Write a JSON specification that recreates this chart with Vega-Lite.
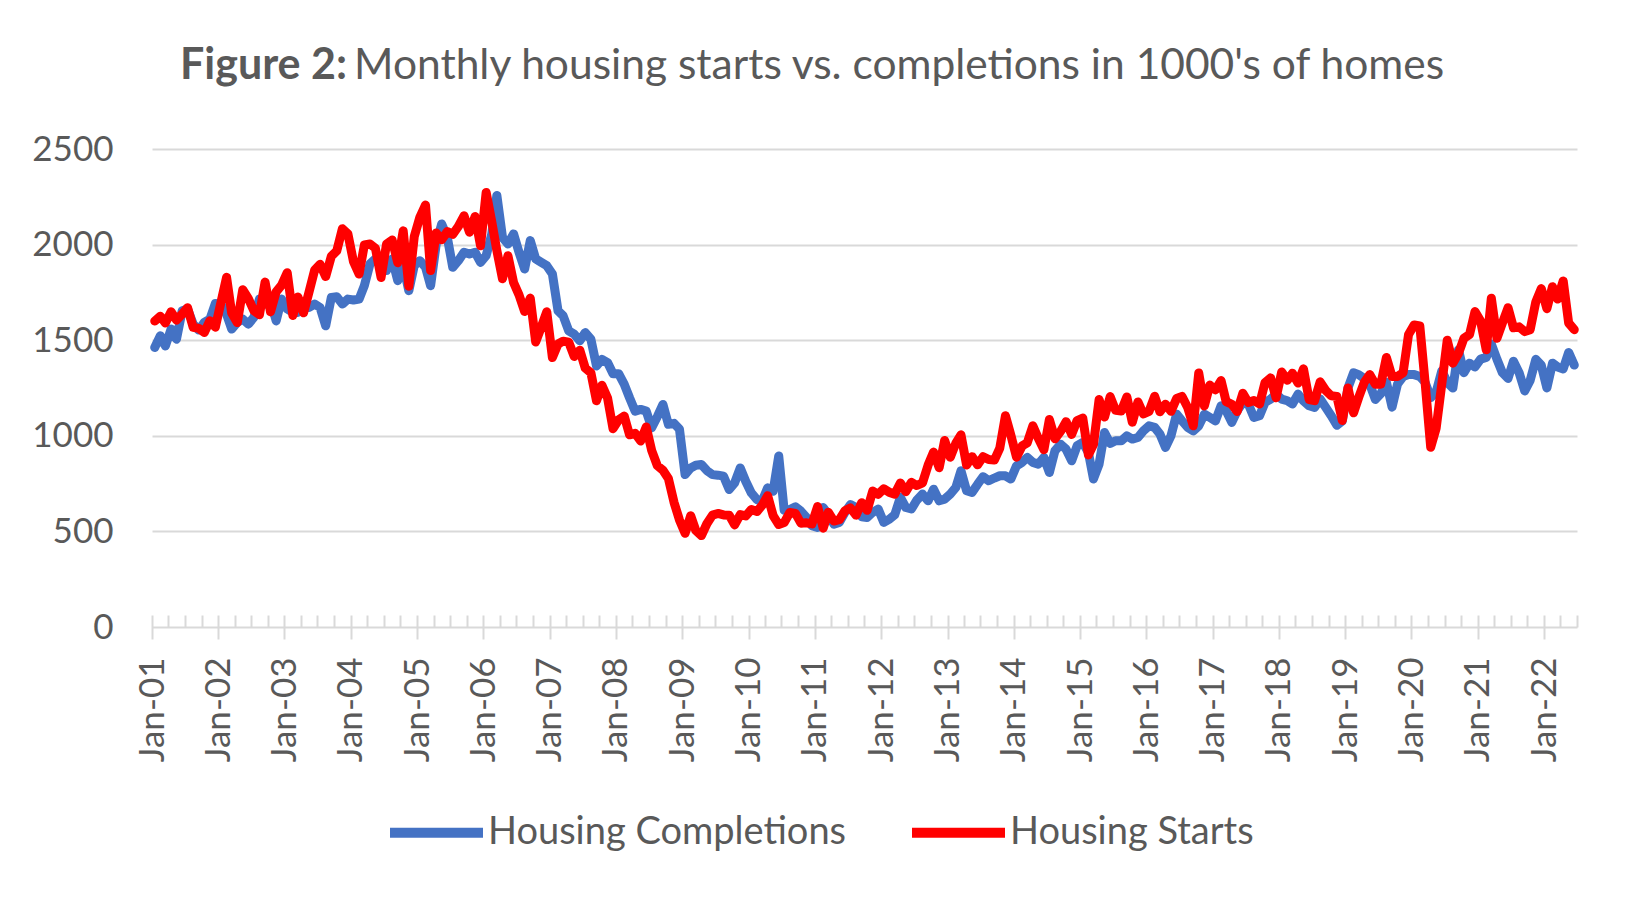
{
  "$schema": "https://vega.github.io/schema/vega-lite/v6.json",
  "width": 1425,
  "height": 478,
  "autosize": {"type": "none"},
  "padding": {"left": 152, "top": 149, "right": 51, "bottom": 271},
  "background": "white",
  "title": {
    "text": "Figure 2:",
    "subtitle": "\u200b\u00a0\u00a0\u00a0\u00a0\u00a0\u00a0\u00a0\u00a0\u00a0\u00a0\u00a0\u00a0\u00a0\u00a0\u00a0\u00a0Monthly housing starts vs. completions in 1000's of homes",
    "anchor": "start",
    "frame": "group",
    "dx": 28,
    "offset": 44,
    "font": "Lato",
    "fontSize": 43,
    "fontWeight": "bold",
    "color": "#595959",
    "subtitleFont": "Lato",
    "subtitleFontSize": 42.5,
    "subtitleFontWeight": "normal",
    "subtitleColor": "#595959",
    "subtitlePadding": -43
  },
  "data": {
    "values": [
      {"d": "2001-01-16", "c": 1462, "s": 1600},
      {"d": "2001-02-16", "c": 1523, "s": 1625},
      {"d": "2001-03-16", "c": 1470, "s": 1590},
      {"d": "2001-04-16", "c": 1558, "s": 1649},
      {"d": "2001-05-16", "c": 1505, "s": 1605},
      {"d": "2001-06-16", "c": 1654, "s": 1636},
      {"d": "2001-07-16", "c": 1663, "s": 1670},
      {"d": "2001-08-16", "c": 1584, "s": 1567},
      {"d": "2001-09-16", "c": 1553, "s": 1562},
      {"d": "2001-10-16", "c": 1593, "s": 1540},
      {"d": "2001-11-16", "c": 1610, "s": 1602},
      {"d": "2001-12-16", "c": 1692, "s": 1568},
      {"d": "2002-01-16", "c": 1689, "s": 1698},
      {"d": "2002-02-16", "c": 1636, "s": 1829},
      {"d": "2002-03-16", "c": 1558, "s": 1642},
      {"d": "2002-04-16", "c": 1593, "s": 1592},
      {"d": "2002-05-16", "c": 1610, "s": 1764},
      {"d": "2002-06-16", "c": 1584, "s": 1717},
      {"d": "2002-07-16", "c": 1619, "s": 1655},
      {"d": "2002-08-16", "c": 1715, "s": 1633},
      {"d": "2002-09-16", "c": 1689, "s": 1804},
      {"d": "2002-10-16", "c": 1706, "s": 1648},
      {"d": "2002-11-16", "c": 1601, "s": 1753},
      {"d": "2002-12-16", "c": 1715, "s": 1788},
      {"d": "2003-01-16", "c": 1663, "s": 1853},
      {"d": "2003-02-16", "c": 1645, "s": 1629},
      {"d": "2003-03-16", "c": 1645, "s": 1726},
      {"d": "2003-04-16", "c": 1671, "s": 1643},
      {"d": "2003-05-16", "c": 1671, "s": 1751},
      {"d": "2003-06-16", "c": 1689, "s": 1867},
      {"d": "2003-07-16", "c": 1671, "s": 1897},
      {"d": "2003-08-16", "c": 1575, "s": 1833},
      {"d": "2003-09-16", "c": 1724, "s": 1939},
      {"d": "2003-10-16", "c": 1727, "s": 1967},
      {"d": "2003-11-16", "c": 1689, "s": 2083},
      {"d": "2003-12-16", "c": 1715, "s": 2057},
      {"d": "2004-01-16", "c": 1710, "s": 1911},
      {"d": "2004-02-16", "c": 1715, "s": 1846},
      {"d": "2004-03-16", "c": 1785, "s": 1998},
      {"d": "2004-04-16", "c": 1899, "s": 2003},
      {"d": "2004-05-16", "c": 1925, "s": 1981},
      {"d": "2004-06-16", "c": 1890, "s": 1828},
      {"d": "2004-07-16", "c": 1864, "s": 2002},
      {"d": "2004-08-16", "c": 1925, "s": 2024},
      {"d": "2004-09-16", "c": 1811, "s": 1905},
      {"d": "2004-10-16", "c": 1890, "s": 2072},
      {"d": "2004-11-16", "c": 1759, "s": 1782},
      {"d": "2004-12-16", "c": 1890, "s": 2042},
      {"d": "2005-01-16", "c": 1916, "s": 2144},
      {"d": "2005-02-16", "c": 1881, "s": 2207},
      {"d": "2005-03-16", "c": 1785, "s": 1864},
      {"d": "2005-04-16", "c": 2003, "s": 2061},
      {"d": "2005-05-16", "c": 2108, "s": 2025},
      {"d": "2005-06-16", "c": 2038, "s": 2068},
      {"d": "2005-07-16", "c": 1881, "s": 2054},
      {"d": "2005-08-16", "c": 1916, "s": 2095},
      {"d": "2005-09-16", "c": 1960, "s": 2151},
      {"d": "2005-10-16", "c": 1951, "s": 2065},
      {"d": "2005-11-16", "c": 1960, "s": 2147},
      {"d": "2005-12-16", "c": 1907, "s": 1994},
      {"d": "2006-01-16", "c": 1942, "s": 2273},
      {"d": "2006-02-16", "c": 2056, "s": 2119},
      {"d": "2006-03-16", "c": 2257, "s": 1969},
      {"d": "2006-04-16", "c": 2038, "s": 1821},
      {"d": "2006-05-16", "c": 2003, "s": 1942},
      {"d": "2006-06-16", "c": 2056, "s": 1802},
      {"d": "2006-07-16", "c": 1960, "s": 1737},
      {"d": "2006-08-16", "c": 1872, "s": 1650},
      {"d": "2006-09-16", "c": 2021, "s": 1720},
      {"d": "2006-10-16", "c": 1925, "s": 1491},
      {"d": "2006-11-16", "c": 1907, "s": 1570},
      {"d": "2006-12-16", "c": 1890, "s": 1649},
      {"d": "2007-01-16", "c": 1846, "s": 1409},
      {"d": "2007-02-16", "c": 1654, "s": 1480},
      {"d": "2007-03-16", "c": 1628, "s": 1495},
      {"d": "2007-04-16", "c": 1549, "s": 1490},
      {"d": "2007-05-16", "c": 1532, "s": 1415},
      {"d": "2007-06-16", "c": 1497, "s": 1448},
      {"d": "2007-07-16", "c": 1540, "s": 1354},
      {"d": "2007-08-16", "c": 1505, "s": 1330},
      {"d": "2007-09-16", "c": 1365, "s": 1183},
      {"d": "2007-10-16", "c": 1400, "s": 1264},
      {"d": "2007-11-16", "c": 1383, "s": 1197},
      {"d": "2007-12-16", "c": 1325, "s": 1037},
      {"d": "2008-01-16", "c": 1325, "s": 1084},
      {"d": "2008-02-16", "c": 1269, "s": 1103},
      {"d": "2008-03-16", "c": 1199, "s": 1005},
      {"d": "2008-04-16", "c": 1129, "s": 1013},
      {"d": "2008-05-16", "c": 1138, "s": 973},
      {"d": "2008-06-16", "c": 1129, "s": 1046},
      {"d": "2008-07-16", "c": 1042, "s": 923},
      {"d": "2008-08-16", "c": 1100, "s": 844},
      {"d": "2008-09-16", "c": 1164, "s": 820},
      {"d": "2008-10-16", "c": 1060, "s": 777},
      {"d": "2008-11-16", "c": 1065, "s": 652},
      {"d": "2008-12-16", "c": 1035, "s": 560},
      {"d": "2009-01-16", "c": 797, "s": 490},
      {"d": "2009-02-16", "c": 832, "s": 582},
      {"d": "2009-03-16", "c": 846, "s": 505},
      {"d": "2009-04-16", "c": 850, "s": 478},
      {"d": "2009-05-16", "c": 818, "s": 540},
      {"d": "2009-06-16", "c": 797, "s": 585},
      {"d": "2009-07-16", "c": 794, "s": 594},
      {"d": "2009-08-16", "c": 789, "s": 586},
      {"d": "2009-09-16", "c": 719, "s": 585},
      {"d": "2009-10-16", "c": 754, "s": 534},
      {"d": "2009-11-16", "c": 832, "s": 588},
      {"d": "2009-12-16", "c": 762, "s": 581},
      {"d": "2010-01-16", "c": 701, "s": 614},
      {"d": "2010-02-16", "c": 666, "s": 604},
      {"d": "2010-03-16", "c": 658, "s": 636},
      {"d": "2010-04-16", "c": 728, "s": 687},
      {"d": "2010-05-16", "c": 710, "s": 583},
      {"d": "2010-06-16", "c": 894, "s": 536},
      {"d": "2010-07-16", "c": 610, "s": 546},
      {"d": "2010-08-16", "c": 614, "s": 599},
      {"d": "2010-09-16", "c": 628, "s": 594},
      {"d": "2010-10-16", "c": 606, "s": 543},
      {"d": "2010-11-16", "c": 573, "s": 545},
      {"d": "2010-12-16", "c": 530, "s": 539},
      {"d": "2011-01-16", "c": 520, "s": 630},
      {"d": "2011-02-16", "c": 625, "s": 517},
      {"d": "2011-03-16", "c": 587, "s": 600},
      {"d": "2011-04-16", "c": 538, "s": 554},
      {"d": "2011-05-16", "c": 547, "s": 561},
      {"d": "2011-06-16", "c": 600, "s": 608},
      {"d": "2011-07-16", "c": 640, "s": 623},
      {"d": "2011-08-16", "c": 625, "s": 585},
      {"d": "2011-09-16", "c": 577, "s": 650},
      {"d": "2011-10-16", "c": 573, "s": 610},
      {"d": "2011-11-16", "c": 600, "s": 711},
      {"d": "2011-12-16", "c": 617, "s": 694},
      {"d": "2012-01-16", "c": 547, "s": 723},
      {"d": "2012-02-16", "c": 564, "s": 704},
      {"d": "2012-03-16", "c": 587, "s": 695},
      {"d": "2012-04-16", "c": 678, "s": 753},
      {"d": "2012-05-16", "c": 625, "s": 708},
      {"d": "2012-06-16", "c": 617, "s": 757},
      {"d": "2012-07-16", "c": 664, "s": 740},
      {"d": "2012-08-16", "c": 695, "s": 754},
      {"d": "2012-09-16", "c": 660, "s": 847},
      {"d": "2012-10-16", "c": 721, "s": 915},
      {"d": "2012-11-16", "c": 660, "s": 833},
      {"d": "2012-12-16", "c": 669, "s": 976},
      {"d": "2013-01-16", "c": 695, "s": 888},
      {"d": "2013-02-16", "c": 730, "s": 962},
      {"d": "2013-03-16", "c": 817, "s": 1005},
      {"d": "2013-04-16", "c": 713, "s": 847},
      {"d": "2013-05-16", "c": 704, "s": 891},
      {"d": "2013-06-16", "c": 747, "s": 848},
      {"d": "2013-07-16", "c": 786, "s": 891},
      {"d": "2013-08-16", "c": 765, "s": 876},
      {"d": "2013-09-16", "c": 779, "s": 873},
      {"d": "2013-10-16", "c": 791, "s": 936},
      {"d": "2013-11-16", "c": 791, "s": 1105},
      {"d": "2013-12-16", "c": 774, "s": 1003},
      {"d": "2014-01-16", "c": 843, "s": 888},
      {"d": "2014-02-16", "c": 861, "s": 947},
      {"d": "2014-03-16", "c": 887, "s": 963},
      {"d": "2014-04-16", "c": 861, "s": 1052},
      {"d": "2014-05-16", "c": 852, "s": 987},
      {"d": "2014-06-16", "c": 887, "s": 927},
      {"d": "2014-07-16", "c": 808, "s": 1085},
      {"d": "2014-08-16", "c": 922, "s": 984},
      {"d": "2014-09-16", "c": 956, "s": 1023},
      {"d": "2014-10-16", "c": 930, "s": 1074},
      {"d": "2014-11-16", "c": 869, "s": 1007},
      {"d": "2014-12-16", "c": 948, "s": 1080},
      {"d": "2015-01-16", "c": 965, "s": 1093},
      {"d": "2015-02-16", "c": 913, "s": 900},
      {"d": "2015-03-16", "c": 774, "s": 954},
      {"d": "2015-04-16", "c": 852, "s": 1190},
      {"d": "2015-05-16", "c": 1017, "s": 1098},
      {"d": "2015-06-16", "c": 960, "s": 1205},
      {"d": "2015-07-16", "c": 974, "s": 1133},
      {"d": "2015-08-16", "c": 974, "s": 1130},
      {"d": "2015-09-16", "c": 1000, "s": 1203},
      {"d": "2015-10-16", "c": 983, "s": 1071},
      {"d": "2015-11-16", "c": 991, "s": 1177},
      {"d": "2015-12-16", "c": 1026, "s": 1114},
      {"d": "2016-01-16", "c": 1052, "s": 1128},
      {"d": "2016-02-16", "c": 1044, "s": 1207},
      {"d": "2016-03-16", "c": 1009, "s": 1126},
      {"d": "2016-04-16", "c": 939, "s": 1165},
      {"d": "2016-05-16", "c": 1000, "s": 1128},
      {"d": "2016-06-16", "c": 1113, "s": 1195},
      {"d": "2016-07-16", "c": 1078, "s": 1206},
      {"d": "2016-08-16", "c": 1044, "s": 1148},
      {"d": "2016-09-16", "c": 1026, "s": 1052},
      {"d": "2016-10-16", "c": 1052, "s": 1328},
      {"d": "2016-11-16", "c": 1113, "s": 1156},
      {"d": "2016-12-16", "c": 1096, "s": 1265},
      {"d": "2017-01-16", "c": 1078, "s": 1240},
      {"d": "2017-02-16", "c": 1157, "s": 1289},
      {"d": "2017-03-16", "c": 1131, "s": 1179},
      {"d": "2017-04-16", "c": 1070, "s": 1165},
      {"d": "2017-05-16", "c": 1131, "s": 1127},
      {"d": "2017-06-16", "c": 1174, "s": 1222},
      {"d": "2017-07-16", "c": 1166, "s": 1174},
      {"d": "2017-08-16", "c": 1096, "s": 1185},
      {"d": "2017-09-16", "c": 1105, "s": 1166},
      {"d": "2017-10-16", "c": 1174, "s": 1278},
      {"d": "2017-11-16", "c": 1192, "s": 1303},
      {"d": "2017-12-16", "c": 1218, "s": 1199},
      {"d": "2018-01-16", "c": 1192, "s": 1334},
      {"d": "2018-02-16", "c": 1183, "s": 1290},
      {"d": "2018-03-16", "c": 1166, "s": 1327},
      {"d": "2018-04-16", "c": 1218, "s": 1276},
      {"d": "2018-05-16", "c": 1183, "s": 1350},
      {"d": "2018-06-16", "c": 1157, "s": 1190},
      {"d": "2018-07-16", "c": 1148, "s": 1184},
      {"d": "2018-08-16", "c": 1192, "s": 1282},
      {"d": "2018-09-16", "c": 1148, "s": 1237},
      {"d": "2018-10-16", "c": 1105, "s": 1209},
      {"d": "2018-11-16", "c": 1055, "s": 1206},
      {"d": "2018-12-16", "c": 1078, "s": 1080},
      {"d": "2019-01-16", "c": 1250, "s": 1250},
      {"d": "2019-02-16", "c": 1330, "s": 1120},
      {"d": "2019-03-16", "c": 1320, "s": 1200},
      {"d": "2019-04-16", "c": 1300, "s": 1280},
      {"d": "2019-05-16", "c": 1270, "s": 1320},
      {"d": "2019-06-16", "c": 1190, "s": 1270},
      {"d": "2019-07-16", "c": 1220, "s": 1270},
      {"d": "2019-08-16", "c": 1280, "s": 1410},
      {"d": "2019-09-16", "c": 1150, "s": 1310},
      {"d": "2019-10-16", "c": 1270, "s": 1310},
      {"d": "2019-11-16", "c": 1310, "s": 1330},
      {"d": "2019-12-16", "c": 1320, "s": 1530},
      {"d": "2020-01-16", "c": 1320, "s": 1580},
      {"d": "2020-02-16", "c": 1310, "s": 1575},
      {"d": "2020-03-16", "c": 1280, "s": 1280},
      {"d": "2020-04-16", "c": 1200, "s": 940},
      {"d": "2020-05-16", "c": 1230, "s": 1040},
      {"d": "2020-06-16", "c": 1340, "s": 1270},
      {"d": "2020-07-16", "c": 1280, "s": 1500},
      {"d": "2020-08-16", "c": 1250, "s": 1380},
      {"d": "2020-09-16", "c": 1450, "s": 1430},
      {"d": "2020-10-16", "c": 1330, "s": 1510},
      {"d": "2020-11-16", "c": 1380, "s": 1530},
      {"d": "2020-12-16", "c": 1360, "s": 1650},
      {"d": "2021-01-16", "c": 1401, "s": 1600},
      {"d": "2021-02-16", "c": 1410, "s": 1450},
      {"d": "2021-03-16", "c": 1480, "s": 1720},
      {"d": "2021-04-16", "c": 1400, "s": 1510},
      {"d": "2021-05-16", "c": 1330, "s": 1590},
      {"d": "2021-06-16", "c": 1300, "s": 1670},
      {"d": "2021-07-16", "c": 1390, "s": 1565},
      {"d": "2021-08-16", "c": 1330, "s": 1570},
      {"d": "2021-09-16", "c": 1235, "s": 1545},
      {"d": "2021-10-16", "c": 1290, "s": 1555},
      {"d": "2021-11-16", "c": 1400, "s": 1700},
      {"d": "2021-12-16", "c": 1370, "s": 1770},
      {"d": "2022-01-16", "c": 1250, "s": 1665},
      {"d": "2022-02-16", "c": 1380, "s": 1780},
      {"d": "2022-03-16", "c": 1360, "s": 1715},
      {"d": "2022-04-16", "c": 1350, "s": 1810},
      {"d": "2022-05-16", "c": 1436, "s": 1590},
      {"d": "2022-06-16", "c": 1370, "s": 1555}
    ]
  },
  "encoding": {
    "x": {
      "field": "d",
      "type": "temporal",
      "title": null,
      "scale": {
        "type": "utc",
        "nice": false,
        "domain": [
          {"year": 2001, "month": 1, "date": 1, "utc": true},
          {"year": 2022, "month": 7, "date": 1, "utc": true}
        ]
      },
      "axis": {
        "tickCount": {"interval": "month", "step": 3},
        "labelExpr": "utcmonth(datum.value) == 0 ? utcFormat(datum.value, '%b-%y') : ''",
        "labelOverlap": false,
        "labelAngle": -90,
        "labelAlign": "right",
        "labelBaseline": "middle",
        "labelPadding": 18,
        "labelFont": "Lato",
        "labelFontSize": 35,
        "labelColor": "#595959",
        "labelBound": false,
        "labelFlush": false,
        "domain": false,
        "grid": false,
        "offset": -12,
        "tickColor": "#D9D9D9",
        "tickWidth": 2,
        "tickSize": {"condition": {"test": "utcmonth(datum.value) == 0", "value": 24}, "value": 12}
      }
    }
  },
  "layer": [
    {
      "mark": {"type": "line", "strokeWidth": 9, "strokeCap": "round", "strokeJoin": "round"},
      "encoding": {
        "y": {
          "field": "c",
          "type": "quantitative",
          "title": null,
          "scale": {"domain": [0, 2500], "nice": false},
          "axis": {
            "values": [0, 500, 1000, 1500, 2000, 2500],
            "format": "d",
            "domain": false,
            "ticks": false,
            "grid": true,
            "gridColor": "#D9D9D9",
            "gridWidth": 2,
            "labelPadding": 39,
            "labelFont": "Lato",
            "labelFontSize": 35,
            "labelColor": "#595959"
          }
        },
        "color": {
          "datum": "Housing Completions",
          "type": "nominal",
          "scale": {
            "domain": ["Housing Completions", "Housing Starts"],
            "range": ["#4472C4", "#FF0000"]
          },
          "legend": {
            "title": null,
            "orient": "none",
            "direction": "horizontal",
            "legendX": 233,
            "legendY": 632,
            "symbolType": "stroke",
            "symbolSize": 8649,
            "symbolStrokeWidth": 10,
            "labelFont": "Lato",
            "labelFontSize": 38,
            "labelColor": "#595959",
            "labelOffset": 0,
            "labelLimit": 0,
            "columnPadding": 45
          }
        }
      }
    },
    {
      "mark": {"type": "line", "strokeWidth": 9, "strokeCap": "round", "strokeJoin": "round"},
      "encoding": {
        "y": {"field": "s", "type": "quantitative", "title": null},
        "color": {"datum": "Housing Starts", "type": "nominal"}
      }
    }
  ],
  "config": {
    "view": {"stroke": null}
  }
}
